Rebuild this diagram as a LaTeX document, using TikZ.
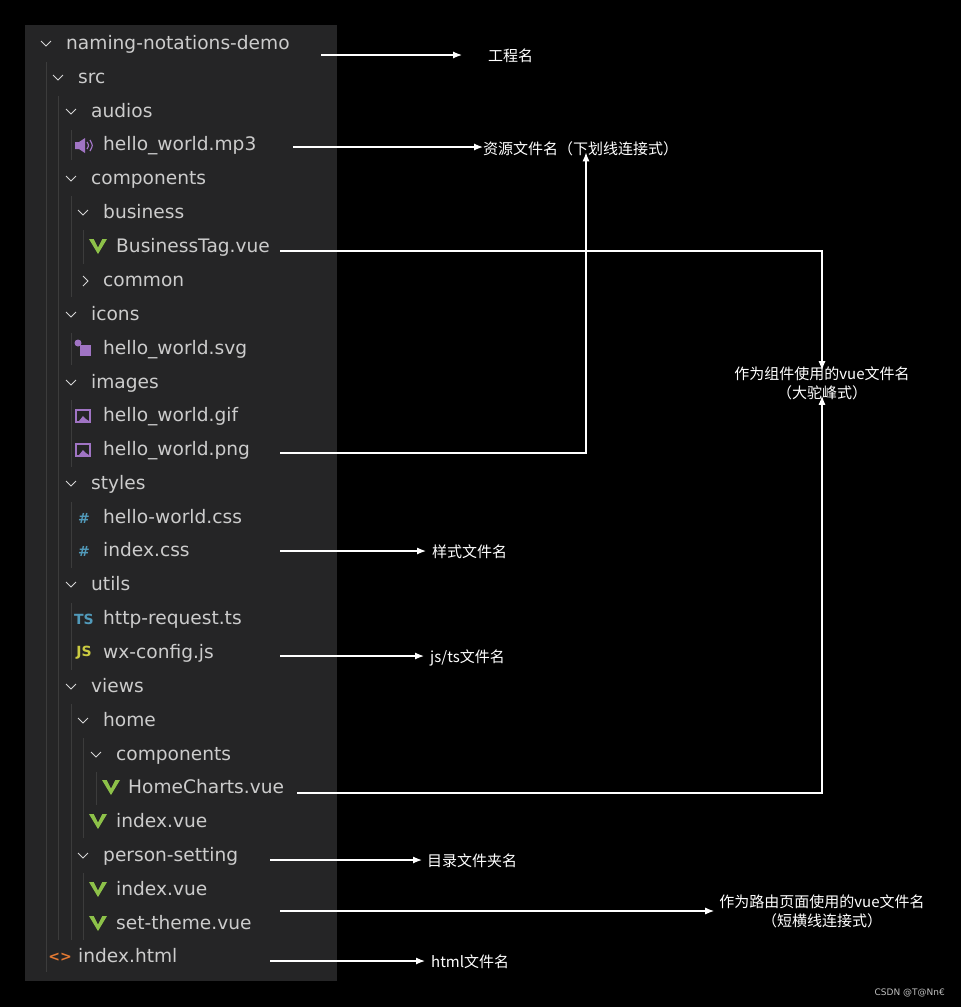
\documentclass[tikz,border=0pt]{standalone}
\usepackage{fontspec}
\setmainfont{DejaVu Sans}
\newfontfamily\cjk{Noto Sans CJK SC}
\usetikzlibrary{arrows.meta,positioning}
\definecolor{panel}{HTML}{252526}
\definecolor{treetxt}{HTML}{CCCCCC}
\definecolor{guide}{HTML}{3C3C3C}
\definecolor{vuegreen}{HTML}{8DC149}
\definecolor{iconpurple}{HTML}{A074C4}
\definecolor{cssblue}{HTML}{519ABA}
\definecolor{jsyellow}{HTML}{CBCB41}
\definecolor{htmlorange}{HTML}{E37933}
\tikzset{
  item/.style={anchor=west,inner sep=0pt,text height=13pt,text depth=2pt,text=treetxt,font=\fontsize{18.6}{18}\selectfont},
  note/.style={anchor=west,inner sep=0pt,text=white,font=\cjk\fontsize{15}{19}\selectfont},
  chev/.style={draw=treetxt!80,line width=1pt},
  link/.style={draw=white,line width=1.2pt,-{Latex[length=9pt,width=7pt]}},
  icon/.style={anchor=center,inner sep=0pt,font=\bfseries\fontsize{14}{14}\selectfont}
}
\newcommand\dn[2]{\draw[chev] ({#1-5},{#2-3}) -- (#1,{#2+2}) -- ({#1+5},{#2-3});}
\newcommand\rt[2]{\draw[chev] ({#1-3},{#2-5}) -- ({#1+2},#2) -- ({#1-3},{#2+5});}
\newcommand\vue[2]{\fill[vuegreen] ({#1-9},{#2-7}) -- ({#1-4},{#2-7}) -- (#1,{#2+1}) -- ({#1+4},{#2-7}) -- ({#1+9},{#2-7}) -- (#1,{#2+8}) -- cycle;
  \fill[panel] ({#1-4},{#2-7}) -- ({#1-1},{#2-7}) -- (#1,{#2-5}) -- ({#1+1},{#2-7}) -- ({#1+4},{#2-7}) -- (#1,{#2+1}) -- cycle;}
\newcommand\img[2]{\draw[iconpurple,line width=1.3pt] ({#1-8},{#2-6}) rectangle ({#1+6},{#2+6});
  \fill[iconpurple] ({#1-5},{#2+5}) -- ({#1-1},{#2}) -- ({#1+2},{#2+3}) -- ({#1+5},{#2+5}) -- cycle;}
\begin{document}
\begin{tikzpicture}[x=1pt,y=-1pt]
\useasboundingbox (0,0) rectangle (961,1007);
\fill[black] (0,0) rectangle (961,1007);
\fill[panel] (25,25) rectangle (337,981);
% indent guides
\draw[guide] (46,62) -- (46,972);
\draw[guide] (58,96) -- (58,940);
\draw[guide] (71,130) -- (71,160) (71,196) -- (71,297) (71,333) -- (71,365) (71,400) -- (71,467) (71,502) -- (71,568) (71,603) -- (71,670) (71,704) -- (71,940);
\draw[guide] (83,230) -- (83,264) (83,738) -- (83,838) (83,873) -- (83,940);
\draw[guide] (96,772) -- (96,805);
% tree
\node[item] (root) at (66,44) {naming-notations-demo}; \dn{46}{44}
\node[item] (src) at (78,78) {src}; \dn{58}{78}
\node[item] (audios) at (91,112) {audios}; \dn{71}{112}
\node[item] (mp3) at (103,145) {hello\_world.mp3};
\fill[iconpurple] (75,142) rectangle (79,149) (79,142) -- (85,138) -- (85,153) -- (79,149) -- cycle;
\draw[iconpurple,line width=1.2pt] (87,142) .. controls (89,145.5) .. (87,149) (90,140) .. controls (93,145.5) .. (90,151);
\node[item] (comps) at (91,179) {components}; \dn{71}{179}
\node[item] (business) at (103,213) {business}; \dn{83}{213}
\node[item] (btag) at (116,247) {BusinessTag.vue}; \vue{98}{246}
\node[item] (common) at (103,281) {common}; \rt{86}{281}
\node[item] (icons) at (91,315) {icons}; \dn{71}{315}
\node[item] (svg) at (103,349) {hello\_world.svg};
\fill[iconpurple] (78,343) circle (3.5); \fill[iconpurple] (80,345) rectangle (91,356);
\node[item] (images) at (91,383) {images}; \dn{71}{383}
\node[item] (gif) at (103,416) {hello\_world.gif}; \img{84}{416}
\node[item] (png) at (103,450) {hello\_world.png}; \img{84}{450}
\node[item] (styles) at (91,484) {styles}; \dn{71}{484}
\node[item] (hwcss) at (103,518) {hello-world.css};
\node[icon,text=cssblue] at (84,518) {\#};
\node[item] (idxcss) at (103,551) {index.css};
\node[icon,text=cssblue] at (84,551) {\#};
\node[item] (utils) at (91,585) {utils}; \dn{71}{585}
\node[item] (http) at (103,619) {http-request.ts};
\node[icon,text=cssblue] at (84,619) {TS};
\node[item] (wx) at (103,653) {wx-config.js};
\node[icon,text=jsyellow] at (84,653) {JS};
\node[item] (views) at (91,687) {views}; \dn{71}{687}
\node[item] (home) at (103,721) {home}; \dn{83}{721}
\node[item] (hcomps) at (116,755) {components}; \dn{96}{755}
\node[item] (hcharts) at (128,788) {HomeCharts.vue}; \vue{111}{787}
\node[item] (hidx) at (116,822) {index.vue}; \vue{98}{821}
\node[item] (person) at (103,856) {person-setting}; \dn{83}{856}
\node[item] (pidx) at (116,890) {index.vue}; \vue{98}{889}
\node[item] (theme) at (116,924) {set-theme.vue}; \vue{98}{923}
\node[item] (html) at (78,957) {index.html};
\node[icon,text=htmlorange] at (60,957) {<>};
% notes
\node[note] (nproj) at (488,56) {工程名};
\node[note] (nres) at (483,149) {资源文件名（下划线连接式）};
\node[note,anchor=center,align=center] (ncomp) at (822,383) {作为组件使用的vue文件名\\（大驼峰式）};
\node[note] (nstyle) at (432,552) {样式文件名};
\node[note] (njs) at (430,658) {js/ts文件名};
\node[note] (ndir) at (427,861) {目录文件夹名};
\node[note,anchor=center,align=center] (nroute) at (822,911) {作为路由页面使用的vue文件名\\（短横线连接式）};
\node[note] (nhtml) at (431,962) {html文件名};
\node[anchor=east,inner sep=0pt,text=white!75!black,font=\fontsize{9}{9}\selectfont] (csdn) at (945,993) {CSDN @T@Nn€};
% connectors
\coordinate (a0) at (321,55);   \draw[link] (a0) -- ([xshift=-26pt]a0 -| nproj.west);
\coordinate (a1) at (293,147);  \draw[link] (a1) -- (a1 -| nres.west);
\coordinate (a2) at (280,453);  \coordinate (up) at (586,0);
\draw[link] (a2) -| ([yshift=4pt]up |- nres.south);
\coordinate (a3) at (280,251);  \draw[link] (a3) -| ([yshift=-4pt]ncomp.north);
\coordinate (a4) at (297,793);  \draw[link] (a4) -| ([yshift=4pt]ncomp.south);
\coordinate (a5) at (280,551);  \draw[link] (a5) -- ([xshift=-6pt]a5 -| nstyle.west);
\coordinate (a6) at (280,656);  \draw[link] (a6) -- ([xshift=-6pt]a6 -| njs.west);
\coordinate (a7) at (270,860);  \draw[link] (a7) -- ([xshift=-5pt]a7 -| ndir.west);
\coordinate (a8) at (280,911);  \draw[link] (a8) -- ([xshift=-5pt]a8 -| nroute.west);
\coordinate (a9) at (270,961);  \draw[link] (a9) -- ([xshift=-6pt]a9 -| nhtml.west);
\end{tikzpicture}
\end{document}
